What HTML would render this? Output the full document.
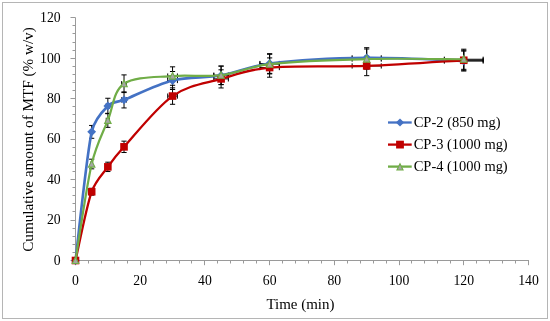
<!DOCTYPE html>
<html><head><meta charset="utf-8"><style>
html,body{margin:0;padding:0;background:#fff;}
svg{display:block;}
text{font-family:"Liberation Serif",serif;font-size:13px;fill:#000;}
.t{font-size:13.6px;}
.n{font-size:15px;}
.l{font-size:15px;}
</style></head><body>
<svg width="550" height="321" viewBox="0 0 550 321">
<rect x="0" y="0" width="550" height="321" fill="#fff"/>
<rect x="2.5" y="2.5" width="545" height="316" fill="none" stroke="#b5b5b5" stroke-width="1"/>
<path d="M75.5,17.5V261 M75,260.5H529.00 M70.5,260.5H75.5 M70.5,220.5H75.5 M70.5,179.5H75.5 M70.5,139.5H75.5 M70.5,98.5H75.5 M70.5,58.5H75.5 M70.5,17.5H75.5 M72.5,252.5H75.5 M72.5,244.5H75.5 M72.5,236.5H75.5 M72.5,228.5H75.5 M72.5,211.5H75.5 M72.5,203.5H75.5 M72.5,195.5H75.5 M72.5,187.5H75.5 M72.5,171.5H75.5 M72.5,163.5H75.5 M72.5,155.5H75.5 M72.5,147.5H75.5 M72.5,131.5H75.5 M72.5,122.5H75.5 M72.5,114.5H75.5 M72.5,106.5H75.5 M72.5,90.5H75.5 M72.5,82.5H75.5 M72.5,74.5H75.5 M72.5,66.5H75.5 M72.5,50.5H75.5 M72.5,42.5H75.5 M72.5,33.5H75.5 M72.5,25.5H75.5 M75.5,260.5V265.2 M140.5,260.5V265.2 M204.5,260.5V265.2 M269.5,260.5V265.2 M334.5,260.5V265.2 M399.5,260.5V265.2 M463.5,260.5V265.2 M528.5,260.5V265.2 M88.5,260.5V263.5 M101.5,260.5V263.5 M114.5,260.5V263.5 M127.5,260.5V263.5 M153.5,260.5V263.5 M166.5,260.5V263.5 M179.5,260.5V263.5 M191.5,260.5V263.5 M217.5,260.5V263.5 M230.5,260.5V263.5 M243.5,260.5V263.5 M256.5,260.5V263.5 M282.5,260.5V263.5 M295.5,260.5V263.5 M308.5,260.5V263.5 M321.5,260.5V263.5 M347.5,260.5V263.5 M360.5,260.5V263.5 M373.5,260.5V263.5 M386.5,260.5V263.5 M411.5,260.5V263.5 M424.5,260.5V263.5 M437.5,260.5V263.5 M450.5,260.5V263.5 M476.5,260.5V263.5 M489.5,260.5V263.5 M502.5,260.5V263.5 M515.5,260.5V263.5" stroke="#9a9a9a" stroke-width="1" fill="none"/>
<text class="n" transform="translate(60.6,264.80) scale(0.915,1)" text-anchor="end">0</text>
<text class="n" transform="translate(60.6,224.35) scale(0.915,1)" text-anchor="end">20</text>
<text class="n" transform="translate(60.6,183.90) scale(0.915,1)" text-anchor="end">40</text>
<text class="n" transform="translate(60.6,143.45) scale(0.915,1)" text-anchor="end">60</text>
<text class="n" transform="translate(60.6,103.00) scale(0.915,1)" text-anchor="end">80</text>
<text class="n" transform="translate(60.6,62.55) scale(0.915,1)" text-anchor="end">100</text>
<text class="n" transform="translate(60.6,22.10) scale(0.915,1)" text-anchor="end">120</text>
<text class="n" transform="translate(75.50,284.7) scale(0.915,1)" text-anchor="middle">0</text>
<text class="n" transform="translate(140.21,284.7) scale(0.915,1)" text-anchor="middle">20</text>
<text class="n" transform="translate(204.92,284.7) scale(0.915,1)" text-anchor="middle">40</text>
<text class="n" transform="translate(269.62,284.7) scale(0.915,1)" text-anchor="middle">60</text>
<text class="n" transform="translate(334.33,284.7) scale(0.915,1)" text-anchor="middle">80</text>
<text class="n" transform="translate(399.04,284.7) scale(0.915,1)" text-anchor="middle">100</text>
<text class="n" transform="translate(463.75,284.7) scale(0.915,1)" text-anchor="middle">120</text>
<text class="n" transform="translate(528.46,284.7) scale(0.915,1)" text-anchor="middle">140</text>
<path d="M91.68,125.44V138.30 M89.08,125.44H94.28 M89.08,138.30H94.28 M90.87,131.87H92.49 M90.87,129.27V134.47 M92.49,129.27V134.47 M107.85,98.26V113.71 M105.25,98.26H110.45 M105.25,113.71H110.45 M106.24,105.98H109.47 M106.24,103.38V108.58 M109.47,103.38V108.58 M124.03,91.88V107.94 M121.43,91.88H126.63 M121.43,107.94H126.63 M121.60,99.91H126.46 M121.60,97.31V102.51 M126.46,97.31V102.51 M172.56,71.50V89.50 M169.96,71.50H175.16 M169.96,89.50H175.16 M167.71,80.50H177.42 M167.71,77.90V83.10 M177.42,77.90V83.10 M221.09,66.19V84.69 M218.49,66.19H223.69 M218.49,84.69H223.69 M213.81,75.44H228.37 M213.81,72.84V78.04 M228.37,72.84V78.04 M269.62,53.66V73.36 M267.02,53.66H272.22 M267.02,73.36H272.22 M259.92,63.51H279.33 M259.92,60.91V66.11 M279.33,60.91V66.11 M366.69,47.71V67.98 M364.09,47.71H369.29 M364.09,67.98H369.29 M352.13,57.85H381.25 M352.13,55.25V60.45 M381.25,55.25V60.45 M463.75,51.11V71.05 M461.15,51.11H466.35 M461.15,71.05H466.35 M444.34,61.08H483.16 M444.34,58.48V63.68 M483.16,58.48V63.68 M91.68,188.30V195.17 M89.08,188.30H94.28 M89.08,195.17H94.28 M90.87,191.74H92.49 M90.87,189.14V194.34 M92.49,189.14V194.34 M107.85,162.18V171.54 M105.25,162.18H110.45 M105.25,171.54H110.45 M106.24,166.86H109.47 M106.24,164.26V169.46 M109.47,164.26V169.46 M124.03,141.15V152.52 M121.43,141.15H126.63 M121.43,152.52H126.63 M121.60,146.84H126.46 M121.60,144.24V149.44 M126.46,144.24V149.44 M172.56,87.85V104.29 M169.96,87.85H175.16 M169.96,104.29H175.16 M167.71,96.07H177.42 M167.71,93.47V98.67 M177.42,93.47V98.67 M221.09,69.80V87.96 M218.49,69.80H223.69 M218.49,87.96H223.69 M213.81,78.88H228.37 M213.81,76.28V81.48 M228.37,76.28V81.48 M269.62,57.91V77.20 M267.02,57.91H272.22 M267.02,77.20H272.22 M259.92,67.55H279.33 M259.92,64.95V70.15 M279.33,64.95V70.15 M366.69,56.21V75.66 M364.09,56.21H369.29 M364.09,75.66H369.29 M352.13,65.94H381.25 M352.13,63.34V68.54 M381.25,63.34V68.54 M463.75,50.26V70.28 M461.15,50.26H466.35 M461.15,70.28H466.35 M444.34,60.27H483.16 M444.34,57.67V62.87 M483.16,57.67V62.87 M91.68,159.20V168.85 M89.08,159.20H94.28 M89.08,168.85H94.28 M90.87,164.03H92.49 M90.87,161.43V166.63 M92.49,161.43V166.63 M107.85,113.33V127.35 M105.25,113.33H110.45 M105.25,127.35H110.45 M106.24,120.34H109.47 M106.24,117.74V122.94 M109.47,117.74V122.94 M124.03,74.90V92.57 M121.43,74.90H126.63 M121.43,92.57H126.63 M121.60,83.73H126.46 M121.60,81.13V86.33 M126.46,81.13V86.33 M172.56,66.83V85.27 M169.96,66.83H175.16 M169.96,85.27H175.16 M167.71,76.05H177.42 M167.71,73.45V78.65 M177.42,73.45V78.65 M221.09,65.98V84.50 M218.49,65.98H223.69 M218.49,84.50H223.69 M213.81,75.24H228.37 M213.81,72.64V77.84 M228.37,72.64V77.84 M269.62,54.30V73.93 M267.02,54.30H272.22 M267.02,73.93H272.22 M259.92,64.12H279.33 M259.92,61.52V66.72 M279.33,61.52V66.72 M366.69,48.99V69.13 M364.09,48.99H369.29 M364.09,69.13H369.29 M352.13,59.06H381.25 M352.13,56.46V61.66 M381.25,56.46V61.66 M463.75,49.20V69.32 M461.15,49.20H466.35 M461.15,69.32H466.35 M444.34,59.26H483.16 M444.34,56.66V61.86 M483.16,56.66V61.86" stroke="#000" stroke-width="1" fill="none"/>
<path d="M75.50,260.50 C78.20,239.06 86.28,157.62 91.68,131.87 C94.18,119.92 102.46,111.31 107.85,105.98 C112.77,101.12 117.60,102.45 124.03,99.91 C134.82,95.67 156.39,84.58 172.56,80.50 C188.74,76.42 204.92,78.27 221.09,75.44 C237.27,72.61 249.78,65.91 269.62,63.51 C293.89,60.58 334.33,58.25 366.69,57.85 C399.04,57.44 447.57,60.54 463.75,61.08" stroke="#4472C4" stroke-width="2.6" fill="none" stroke-linejoin="round" stroke-linecap="round"/>
<path d="M75.50,256.10 L79.90,260.50 L75.50,264.90 L71.10,260.50Z" fill="#4472C4"/>
<path d="M91.68,127.47 L96.08,131.87 L91.68,136.27 L87.28,131.87Z" fill="#4472C4"/>
<path d="M107.85,101.58 L112.25,105.98 L107.85,110.38 L103.45,105.98Z" fill="#4472C4"/>
<path d="M124.03,95.51 L128.43,99.91 L124.03,104.31 L119.63,99.91Z" fill="#4472C4"/>
<path d="M172.56,76.10 L176.96,80.50 L172.56,84.90 L168.16,80.50Z" fill="#4472C4"/>
<path d="M221.09,71.04 L225.49,75.44 L221.09,79.84 L216.69,75.44Z" fill="#4472C4"/>
<path d="M269.62,59.11 L274.02,63.51 L269.62,67.91 L265.22,63.51Z" fill="#4472C4"/>
<path d="M366.69,53.45 L371.09,57.85 L366.69,62.25 L362.29,57.85Z" fill="#4472C4"/>
<path d="M463.75,56.68 L468.15,61.08 L463.75,65.48 L459.35,61.08Z" fill="#4472C4"/>
<path d="M75.50,260.50 C78.20,249.04 86.28,207.34 91.68,191.74 C95.55,180.52 102.46,174.34 107.85,166.86 C113.25,159.38 117.08,154.44 124.03,146.84 C134.82,135.04 156.39,107.40 172.56,96.07 C188.74,84.74 204.92,83.63 221.09,78.88 C237.27,74.13 249.77,69.32 269.62,67.55 C293.89,65.40 334.33,67.15 366.69,65.94 C399.04,64.72 447.57,61.22 463.75,60.27" stroke="#C00000" stroke-width="2.3" fill="none" stroke-linejoin="round" stroke-linecap="round"/>
<rect x="71.70" y="256.70" width="7.60" height="7.60" fill="#C00000"/>
<rect x="87.88" y="187.94" width="7.60" height="7.60" fill="#C00000"/>
<rect x="104.05" y="163.06" width="7.60" height="7.60" fill="#C00000"/>
<rect x="120.23" y="143.04" width="7.60" height="7.60" fill="#C00000"/>
<rect x="168.76" y="92.27" width="7.60" height="7.60" fill="#C00000"/>
<rect x="217.29" y="75.08" width="7.60" height="7.60" fill="#C00000"/>
<rect x="265.82" y="63.75" width="7.60" height="7.60" fill="#C00000"/>
<rect x="362.89" y="62.14" width="7.60" height="7.60" fill="#C00000"/>
<rect x="459.95" y="56.47" width="7.60" height="7.60" fill="#C00000"/>
<path d="M75.50,260.50 C78.20,244.42 86.28,187.39 91.68,164.03 C95.87,145.87 102.46,133.72 107.85,120.34 C113.25,106.96 113.25,91.12 124.03,83.73 C134.82,76.35 156.39,77.46 172.56,76.05 C188.74,74.63 204.92,77.23 221.09,75.24 C237.27,73.25 249.83,66.31 269.62,64.12 C293.89,61.42 334.33,59.87 366.69,59.06 C399.04,58.25 447.57,59.23 463.75,59.26" stroke="#70AD47" stroke-width="2.2" fill="none" stroke-linejoin="round" stroke-linecap="round"/>
<path d="M75.50,256.90 L78.74,263.56 L72.26,263.56Z" fill="#A5A5A5" stroke="#70AD47" stroke-width="1.1" stroke-linejoin="miter"/>
<path d="M91.68,160.43 L94.92,167.09 L88.44,167.09Z" fill="#A5A5A5" stroke="#70AD47" stroke-width="1.1" stroke-linejoin="miter"/>
<path d="M107.85,116.74 L111.09,123.40 L104.61,123.40Z" fill="#A5A5A5" stroke="#70AD47" stroke-width="1.1" stroke-linejoin="miter"/>
<path d="M124.03,80.13 L127.27,86.79 L120.79,86.79Z" fill="#A5A5A5" stroke="#70AD47" stroke-width="1.1" stroke-linejoin="miter"/>
<path d="M172.56,72.45 L175.80,79.11 L169.32,79.11Z" fill="#A5A5A5" stroke="#70AD47" stroke-width="1.1" stroke-linejoin="miter"/>
<path d="M221.09,71.64 L224.33,78.30 L217.85,78.30Z" fill="#A5A5A5" stroke="#70AD47" stroke-width="1.1" stroke-linejoin="miter"/>
<path d="M269.62,60.52 L272.86,67.18 L266.38,67.18Z" fill="#A5A5A5" stroke="#70AD47" stroke-width="1.1" stroke-linejoin="miter"/>
<path d="M366.69,55.46 L369.93,62.12 L363.45,62.12Z" fill="#A5A5A5" stroke="#70AD47" stroke-width="1.1" stroke-linejoin="miter"/>
<path d="M463.75,55.66 L466.99,62.32 L460.51,62.32Z" fill="#A5A5A5" stroke="#70AD47" stroke-width="1.1" stroke-linejoin="miter"/>
<path d="M388,122.5H411.7" stroke="#4472C4" stroke-width="2.3"/>
<path d="M400.00,118.40 L404.10,122.50 L400.00,126.60 L395.90,122.50Z" fill="#4472C4"/>
<text class="l" x="413.7" y="127.1" textLength="87" lengthAdjust="spacingAndGlyphs">CP-2 (850 mg)</text>
<path d="M388,144.6H411.7" stroke="#C00000" stroke-width="2.3"/>
<rect x="396.10" y="140.70" width="7.80" height="7.80" fill="#C00000"/>
<text class="l" x="413.7" y="149.2" textLength="94" lengthAdjust="spacingAndGlyphs">CP-3 (1000 mg)</text>
<path d="M388,166.6H411.7" stroke="#70AD47" stroke-width="2.3"/>
<path d="M400.00,163.70 L403.06,169.99 L396.94,169.99Z" fill="#A5A5A5" stroke="#70AD47" stroke-width="1.1" stroke-linejoin="miter"/>
<text class="l" x="413.7" y="171.2" textLength="94" lengthAdjust="spacingAndGlyphs">CP-4 (1000 mg)</text>
<text class="t" x="300.4" y="309" text-anchor="middle" textLength="68" lengthAdjust="spacingAndGlyphs">Time (min)</text>
<text class="t" transform="translate(33.3,139.5) rotate(-90)" text-anchor="middle" textLength="224.5" lengthAdjust="spacingAndGlyphs">Cumulative amount of MTF (% w/v)</text>
</svg>
</body></html>
